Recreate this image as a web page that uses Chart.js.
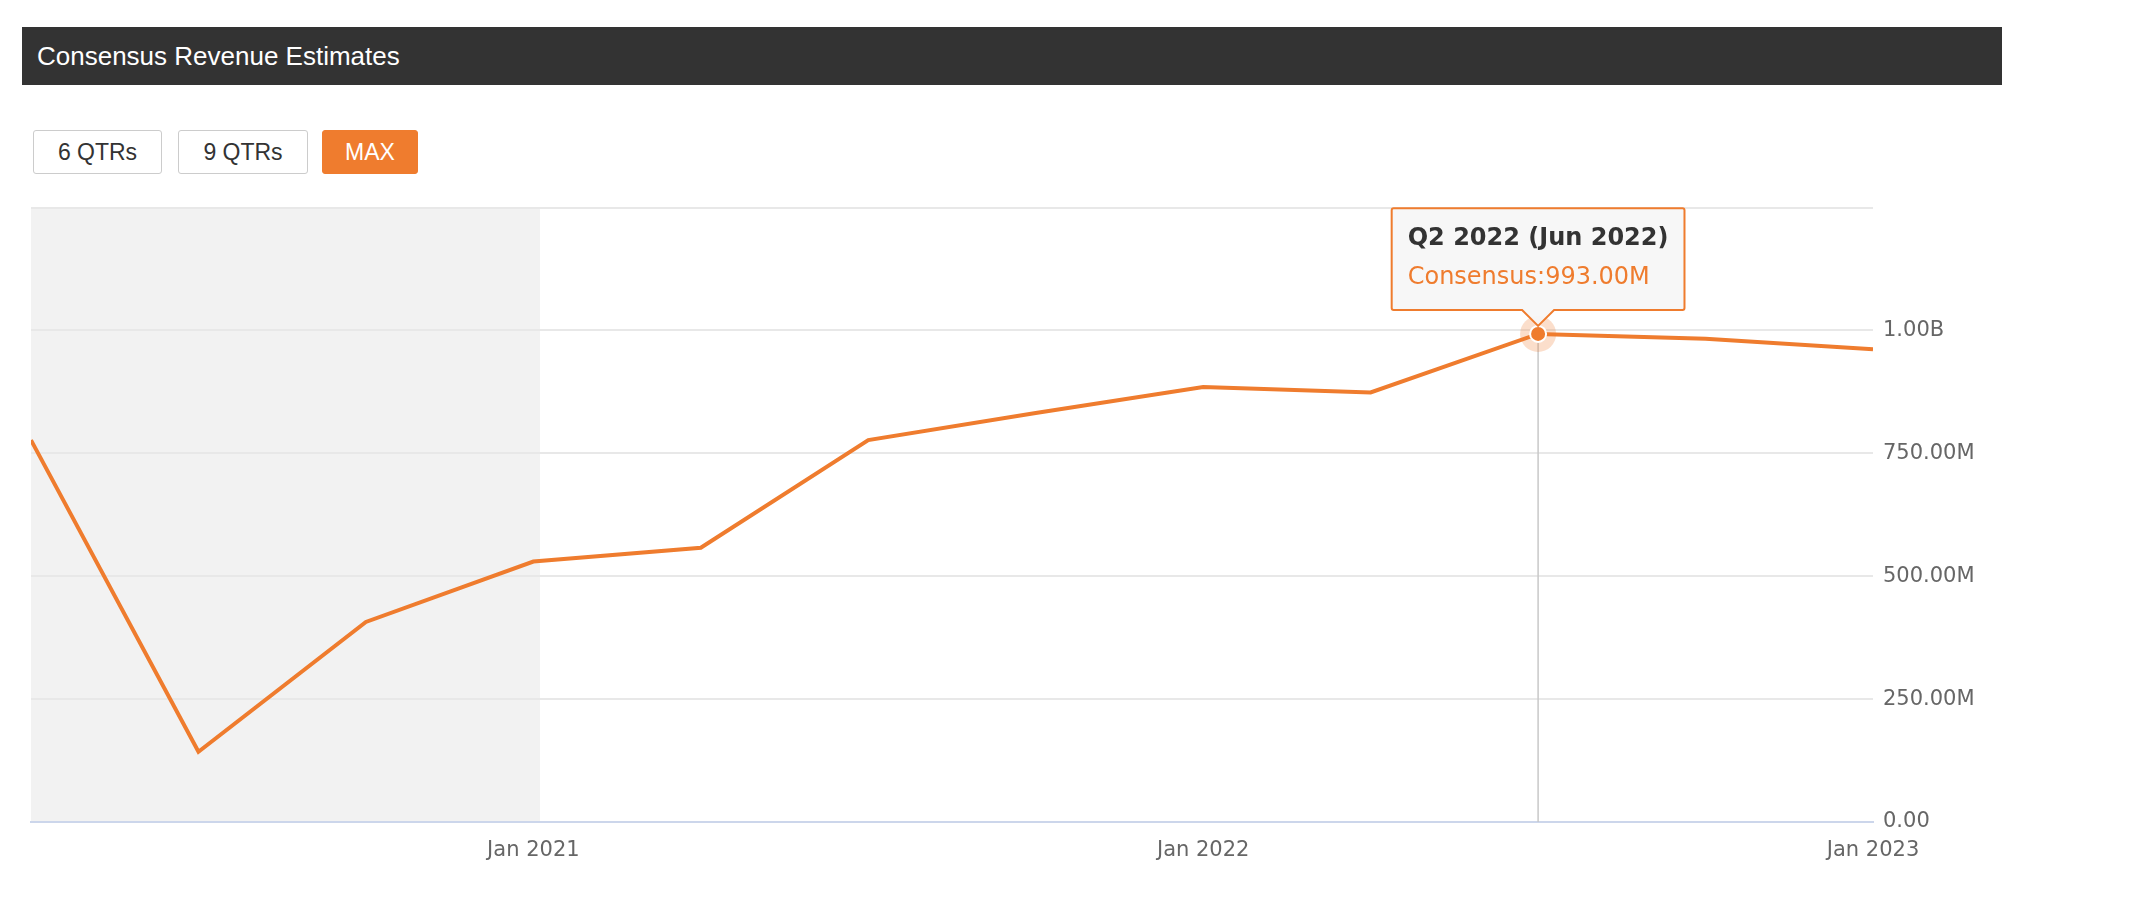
<!DOCTYPE html>
<html><head><meta charset="utf-8">
<script src="https://cdn.jsdelivr.net/npm/chart.js@4"></script>
<style>
body{margin:0;background:#fff;width:2144px;height:920px;position:relative;font-family:"Liberation Sans",Arial,sans-serif;}
#title{position:absolute;left:22px;top:27px;width:1980px;height:58px;background:#333;color:#fff;font-size:26px;line-height:58px;padding-left:15px;box-sizing:border-box;}
.btn{position:absolute;top:130px;height:44px;box-sizing:border-box;border:1px solid #ccc;border-radius:3px;font-size:23px;line-height:42px;text-align:center;color:#333;background:#fff;}
#wrap{position:absolute;left:22px;top:185px;width:1960px;height:700px;}
</style></head><body>
<div id="title">Consensus Revenue Estimates</div>
<div class="btn" style="left:33px;width:129px">6 QTRs</div>
<div class="btn" style="left:178px;width:130px">9 QTRs</div>
<div class="btn" style="left:322px;width:96px;background:#ef7c2e;border-color:#ef7c2e;color:#fff">MAX</div>
<div id="wrap"><canvas id="c"></canvas></div>
<script>
const quarters = ["Q1 2020 (Mar 2020)","Q2 2020 (Jun 2020)","Q3 2020 (Sep 2020)","Q4 2020 (Dec 2020)","Q1 2021 (Mar 2021)","Q2 2021 (Jun 2021)","Q3 2021 (Sep 2021)","Q4 2021 (Dec 2021)","Q1 2022 (Mar 2022)","Q2 2022 (Jun 2022)","Q3 2022 (Sep 2022)","Q4 2022 (Dec 2022)"];
const consensus = [777e6,143e6,407e6,530e6,558e6,777e6,832e6,885e6,874e6,993e6,983e6,962e6];
const xTicks = {3:"Jan 2021",7:"Jan 2022",11:"Jan 2023"};
const yTickValues = [0,250e6,500e6,750e6,1e9,1.25e9];
const shadeEnd = 3.04;
const ORANGE = "#ef7c2e";

function fmt(v){ if(v===0) return "0.00"; if(v>=1e9) return (v/1e9).toFixed(2)+"B"; return (v/1e6).toFixed(2)+"M"; }

const deco = {
  id:"deco",
  beforeDraw(chart){
    const {ctx, chartArea:a, scales:{x,y}} = chart;
    ctx.save(); ctx.fillStyle="#f2f2f2";
    const xe = x.getPixelForValue(shadeEnd);
    ctx.fillRect(a.left, a.top, xe-a.left, a.bottom-a.top);
    ctx.restore();
  },
  afterDatasetsDraw(chart){
    const {ctx, chartArea:a, scales:{x,y}} = chart;
    const px = x.getPixelForValue(9), py = y.getPixelForValue(consensus[9]);
    ctx.save();
    ctx.strokeStyle="#c8c8c8"; ctx.lineWidth=1.5;
    ctx.beginPath(); ctx.moveTo(px, py); ctx.lineTo(px, a.bottom); ctx.stroke();
    ctx.fillStyle="rgba(239,124,46,0.25)";
    ctx.beginPath(); ctx.arc(px,py,18,0,Math.PI*2); ctx.fill();
    ctx.fillStyle=ORANGE; ctx.strokeStyle="#fff"; ctx.lineWidth=2;
    ctx.beginPath(); ctx.arc(px,py,8,0,Math.PI*2); ctx.fill(); ctx.stroke();
    ctx.restore();
  }
};

const chart = new Chart(document.getElementById("c"), {
  type:"line",
  data:{datasets:[{label:"Consensus",data:consensus.map((v,i)=>({x:i,y:v})),borderColor:ORANGE,borderWidth:4,pointRadius:0,tension:0}]},
  options:{
    responsive:true, maintainAspectRatio:false, animation:false,
    events:[],
    layout:{padding:{left:9,top:0,right:0,bottom:0}},
    plugins:{
      legend:{display:false},
      tooltip:{
        backgroundColor:"rgba(247,247,247,0.95)", borderColor:ORANGE, borderWidth:2,
        titleColor:"#333", bodyColor:ORANGE, cornerRadius:2, caretSize:16, caretPadding:8,
        padding:{left:16,right:16,top:16,bottom:18},
        titleFont:{family:"DejaVu Sans",size:24,weight:"bold"}, bodyFont:{family:"DejaVu Sans",size:24},
        displayColors:false, yAlign:"bottom", xAlign:"center", titleMarginBottom:10,
        callbacks:{ title:(it)=>quarters[it[0].dataIndex], label:(it)=>"Consensus:"+fmt(it.parsed.y) }
      }
    },
    scales:{
      x:{type:"linear",min:0,max:11,
        grid:{display:false,drawTicks:true},
        border:{color:"#ccd6eb",width:2},
        afterBuildTicks(ax){ ax.ticks=[3,7,11].map(v=>({value:v})); },
        afterFit(ax){ ax.height=63; },
        ticks:{autoSkip:false,maxRotation:0,color:"#666",font:{family:"DejaVu Sans",size:21},padding:8,callback:(v)=>xTicks[v]||""}
      },
      y:{position:"right",min:0,max:1.25e9,
        grid:{color:"#e8e8e8",lineWidth:2,drawTicks:false},
        border:{display:false},
        afterBuildTicks(ax){ ax.ticks=yTickValues.map(v=>({value:v})); },
        afterFit(ax){ ax.width=109; },
        ticks:{color:"#666",font:{family:"DejaVu Sans",size:21},padding:10,callback:(v)=>v>=1.25e9?"":fmt(v)}
      }
    }
  },
  plugins:[deco]
});
chart.tooltip.setActiveElements([{datasetIndex:0,index:9}],{x:0,y:0});
chart.update();
</script></body></html>
